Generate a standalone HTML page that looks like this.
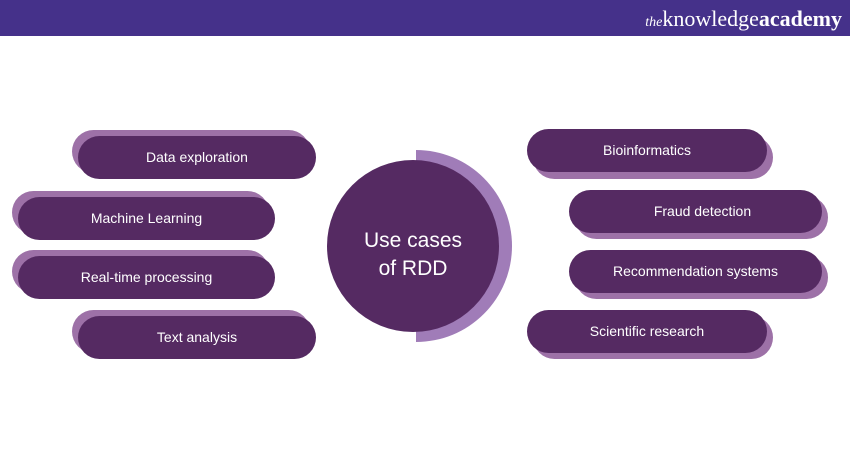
<!DOCTYPE html>
<html><head><style>
body{margin:0;width:850px;height:450px;background:#fff;position:relative;overflow:hidden;font-family:"Liberation Sans",sans-serif}
.hdr{position:absolute;left:0;top:0;width:850px;height:36px;background:#45318a}
.logo{position:absolute;right:8px;top:6px;color:#fff;font-family:"Liberation Serif",serif;font-size:22px}
.logo i{font-size:14px}
.p{position:absolute;width:238px;height:43px;border-radius:22px;background:#552a62;color:#fff;font-size:14px;line-height:43px;text-align:center;box-sizing:border-box}
.s{position:absolute;width:238px;height:43px;border-radius:22px;background:#9d71a7}
</style></head><body>
<div class="hdr"><div class="logo"><i>the</i>knowledge<b>academy</b></div></div>

<div class="s" style="left:72px;top:130px"></div><div class="p" style="left:78px;top:136px">Data exploration</div>
<div class="s" style="left:12px;top:191px;width:257px"></div><div class="p" style="left:18px;top:197px;width:257px">Machine Learning</div>
<div class="s" style="left:12px;top:250px;width:257px"></div><div class="p" style="left:18px;top:256px;width:257px">Real-time processing</div>
<div class="s" style="left:72px;top:310px"></div><div class="p" style="left:78px;top:316px">Text analysis</div>

<div class="s" style="left:533px;top:136px;width:240px"></div><div class="p" style="left:527px;top:129px;width:240px">Bioinformatics</div>
<div class="s" style="left:575px;top:196px;width:253px"></div><div class="p" style="left:569px;top:190px;width:253px;padding-left:14px">Fraud detection</div>
<div class="s" style="left:575px;top:256px;width:253px"></div><div class="p" style="left:569px;top:250px;width:253px">Recommendation systems</div>
<div class="s" style="left:533px;top:316px;width:240px"></div><div class="p" style="left:527px;top:310px;width:240px">Scientific research</div>

<svg style="position:absolute;left:0;top:0" width="850" height="450">
<path d="M416 150 A96 96 0 0 1 416 342 Z" fill="#a07cb8"/>
<circle cx="413" cy="246" r="86" fill="#552a62"/>
<text x="413" y="247" fill="#fff" font-family="Liberation Sans, sans-serif" font-size="21" text-anchor="middle">Use cases</text>
<text x="413" y="275" fill="#fff" font-family="Liberation Sans, sans-serif" font-size="21" text-anchor="middle">of RDD</text>
</svg>
</body></html>
